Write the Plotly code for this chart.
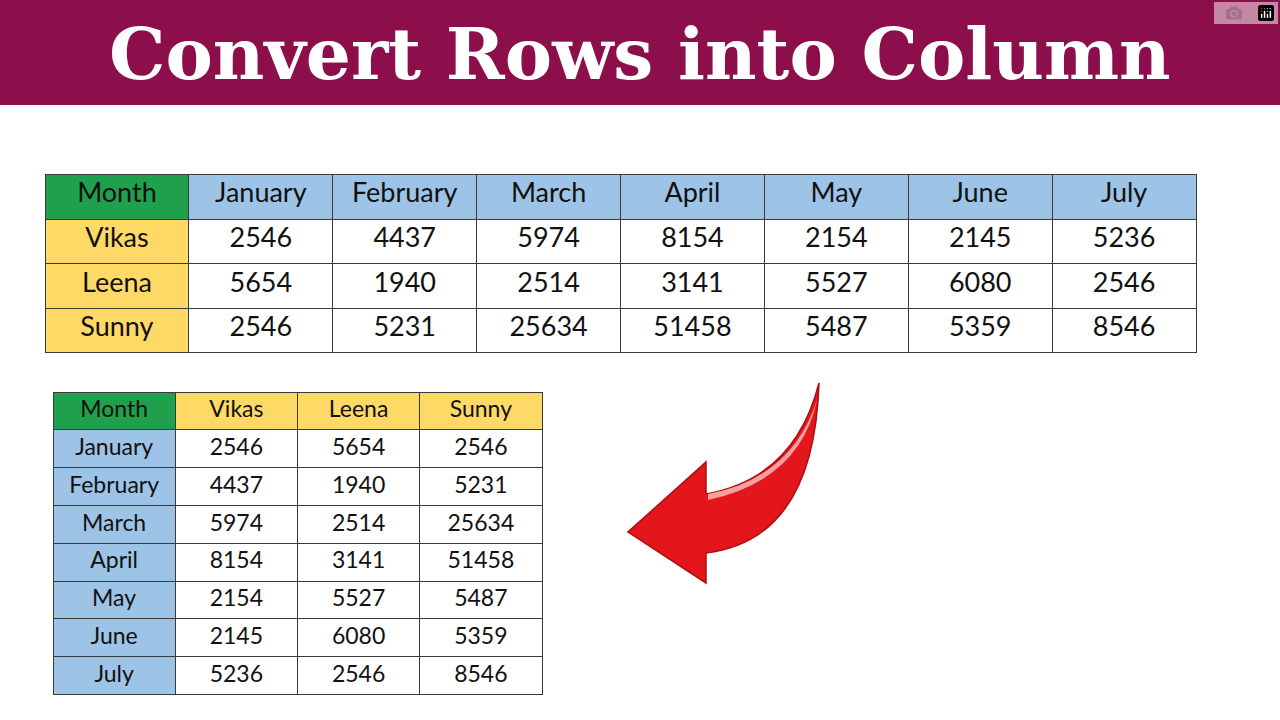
import plotly.graph_objects as go

W, H = 1280, 720

title = "Convert Rows into Column"
months = ["January", "February", "March", "April", "May", "June", "July"]
people = ["Vikas", "Leena", "Sunny"]
vikas = [2546, 4437, 5974, 8154, 2154, 2145, 5236]
leena = [5654, 1940, 2514, 3141, 5527, 6080, 2546]
sunny = [2546, 5231, 25634, 51458, 5487, 5359, 8546]

GREEN = "#1fa04c"
BLUE = "#9dc3e6"
YELLOW = "#ffd966"
WHITE = "#ffffff"
LINE = "#3a3a3a"
FONT = "Lato"

series = [vikas, leena, sunny]


def dom(x0, x1, y0, y1):
    return dict(x=[x0 / W, x1 / W], y=[1 - y1 / H, 1 - y0 / H])


# table 1: people as rows
t1 = go.Table(
    domain=dom(45, 1196, 174, 354),
    columnwidth=[1] * 8,
    header=dict(
        values=["Month"] + months,
        fill_color=[GREEN] + [BLUE] * 7,
        line=dict(color=LINE, width=1),
        font=dict(family=FONT, size=27, color="#111"),
        align="center", height=45,
    ),
    cells=dict(
        values=[people] + [[s[i] for s in series] for i in range(7)],
        fill_color=[[YELLOW] * 3] + [[WHITE] * 3] * 7,
        line=dict(color=LINE, width=1),
        font=dict(family=FONT, size=27, color="#111"),
        align="center", height=44.5,
    ),
)

# table 2: transposed
t2 = go.Table(
    domain=dom(53, 542, 392, 696),
    columnwidth=[1] * 4,
    header=dict(
        values=["Month"] + people,
        fill_color=[GREEN] + [YELLOW] * 3,
        line=dict(color=LINE, width=1),
        font=dict(family=FONT, size=23, color="#111"),
        align="center", height=37.8,
    ),
    cells=dict(
        values=[months, vikas, leena, sunny],
        fill_color=[[BLUE] * 7] + [[WHITE] * 7] * 3,
        line=dict(color=LINE, width=1),
        font=dict(family=FONT, size=23, color="#111"),
        align="center", height=37.8,
    ),
)

fig = go.Figure([t1, t2])

fig.update_layout(
    width=W, height=H,
    margin=dict(l=0, r=0, t=0, b=0),
    paper_bgcolor="white", plot_bgcolor="white",
    showlegend=False,
    xaxis=dict(range=[0, W], visible=False, fixedrange=True),
    yaxis=dict(range=[H, 0], visible=False, fixedrange=True),
    shapes=[
        dict(type="rect", xref="x", yref="y", x0=0, x1=W, y0=0, y1=105,
             fillcolor="#8c0f4b", line=dict(width=0), layer="below"),
        dict(type="path", xref="x", yref="y",
             path="M 819,383 Q 814,540 706,553 L 706,583 L 628,532 L 706,462 "
                  "L 706,494 Q 795,478 819,383 Z",
             fillcolor="#e3161b", line=dict(color="#b00d10", width=1.5)),
        dict(type="path", xref="x", yref="y",
             path="M 817,400 Q 800,480 708,500 L 708,494 Q 792,478 817,400 Z",
             fillcolor="#f7a0a0", line=dict(width=0)),
    ],
    annotations=[
        dict(text="<b>" + title + "</b>", x=W / 2, y=54, xref="x", yref="y",
             showarrow=False,
             font=dict(family="DejaVu Serif", size=71, color="white")),
    ],
)

fig.write_html("out.html", post_script="document.body.style.margin='0';")
